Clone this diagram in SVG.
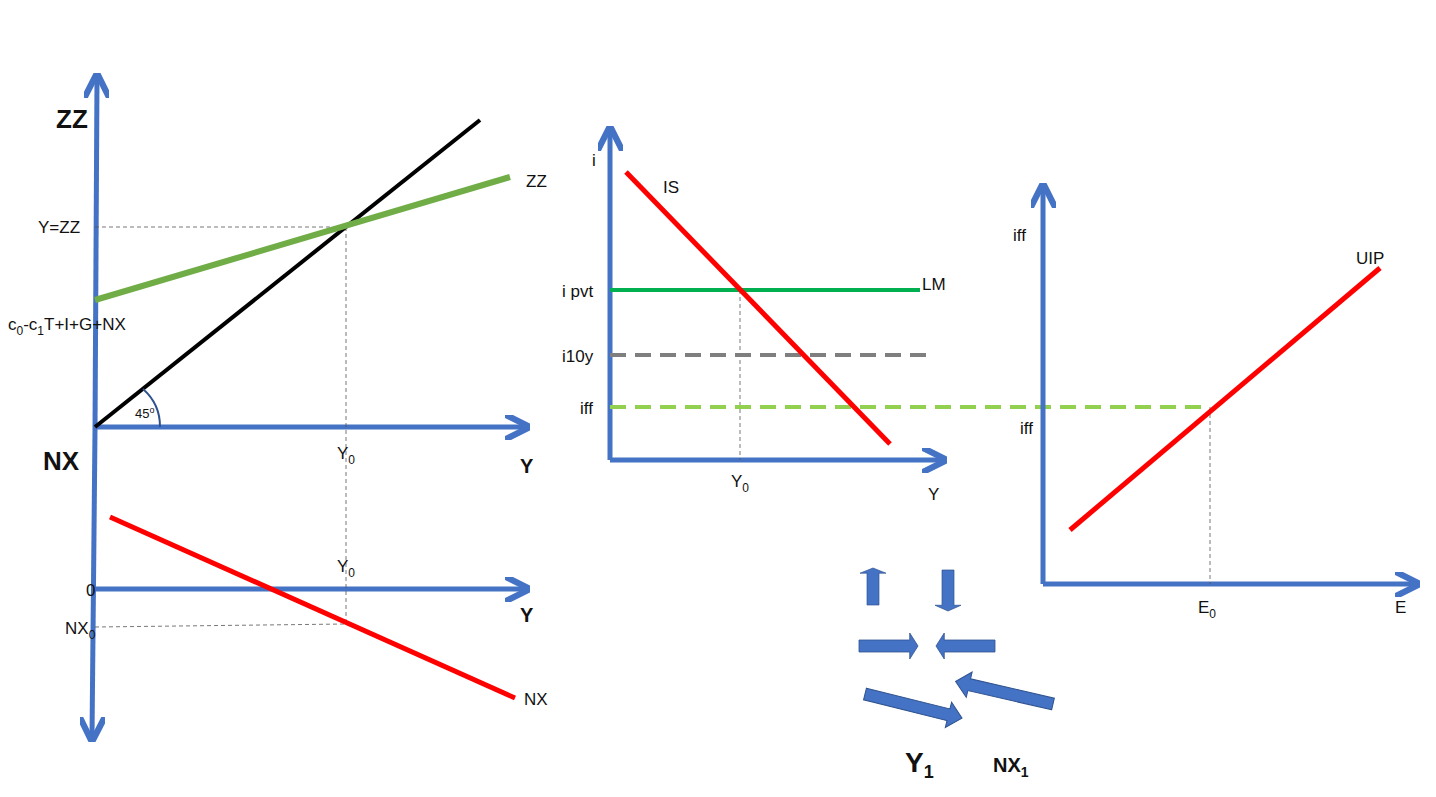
<svg xmlns="http://www.w3.org/2000/svg" width="1436" height="797" viewBox="0 0 1436 797">
<defs>
<marker id="ah" viewBox="0 0 10 10" refX="8" refY="5" markerWidth="5" markerHeight="5" orient="auto-start-reverse" markerUnits="strokeWidth"><path d="M0,0 L10,5 L0,10" fill="none" stroke="#4472C4" stroke-width="2.5"/></marker>
<polygon id="blk" points="0,-6 86,-6 86,-13 100,0 86,13 86,6 0,6"/>
</defs>
<style>
.ax{stroke:#4472C4;stroke-width:5;fill:none;marker-end:url(#ah)}
.dash{stroke:#555;stroke-width:0.8;stroke-dasharray:4,3;fill:none}
text{font-family:"Liberation Sans",Arial,sans-serif;font-size:17px;fill:#111}
.b{font-weight:bold;font-size:26px}
.s{font-size:12px}
.blue{fill:#4472C4;stroke:#2F528F;stroke-width:1}
</style>
<rect width="1436" height="797" fill="#fff"/>
<g id="connectors">
<line class="ax" x1="95" y1="430" x2="97" y2="78" style="marker-end:url(#ah)"/>
<line class="ax" x1="95" y1="430" x2="92" y2="737"/>
<line class="ax" x1="95" y1="427" x2="525" y2="427"/>
<line class="ax" x1="95" y1="589" x2="525" y2="589"/>
<line class="dash" x1="95" y1="227" x2="346" y2="227"/>
<line class="dash" x1="346" y1="227" x2="346" y2="624"/>
<line class="dash" x1="95" y1="627" x2="346" y2="624"/>
<line x1="95" y1="427" x2="480" y2="120" stroke="#000" stroke-width="4"/>
<line x1="95" y1="300" x2="510" y2="177" stroke="#70AD47" stroke-width="6"/>
<line x1="110" y1="517" x2="515" y2="698" stroke="#FF0000" stroke-width="5"/>
<path d="M143,389 A50,50 0 0 1 160,427" fill="none" stroke="#2F528F" stroke-width="2"/>
<line class="ax" x1="610" y1="460" x2="610" y2="131"/>
<line class="ax" x1="610" y1="460" x2="942" y2="460"/>
<line class="dash" x1="740" y1="290" x2="740" y2="460"/>
<line x1="610" y1="290" x2="920" y2="290" stroke="#00B050" stroke-width="4"/>
<line x1="610" y1="355" x2="930" y2="355" stroke="#7F7F7F" stroke-width="4" stroke-dasharray="16,9"/>
<line x1="610" y1="407" x2="1210" y2="407" stroke="#92D050" stroke-width="4" stroke-dasharray="16,9"/>
<line x1="626" y1="172" x2="890" y2="444" stroke="#FF0000" stroke-width="5"/>
<line class="ax" x1="1043" y1="584" x2="1043" y2="188"/>
<line class="ax" x1="1043" y1="584" x2="1415" y2="584"/>
<line class="dash" x1="1210" y1="407" x2="1210" y2="584"/>
<line x1="1070" y1="530" x2="1380" y2="268" stroke="#FF0000" stroke-width="5"/>
</g>
<g id="block-arrows">
<use href="#blk" class="blue" transform="translate(873,605) rotate(-90) scale(0.37,1)"/>
<use href="#blk" class="blue" transform="translate(948,570) rotate(90) scale(0.41,1)"/>
<use href="#blk" class="blue" transform="translate(859,646) scale(0.59,1)"/>
<use href="#blk" class="blue" transform="translate(995,646) rotate(180) scale(0.59,1)"/>
<use href="#blk" class="blue" transform="translate(865,694) rotate(14)"/>
<use href="#blk" class="blue" transform="translate(1053,704) rotate(193)"/>
</g>
<g id="labels">
<text class="b" x="56" y="128">ZZ</text>
<text x="526" y="187">ZZ</text>
<text x="38" y="233">Y=ZZ</text>
<text x="8" y="330">c<tspan class="s" dy="5">0</tspan><tspan dy="-5">-c</tspan><tspan class="s" dy="5">1</tspan><tspan dy="-5">T+I+G+NX</tspan></text>
<text x="135" y="418" class="s" style="font-size:13px">45<tspan dy="-5" style="font-size:9px">o</tspan></text>
<text class="b" x="43" y="470">NX</text>
<text x="337" y="459">Y<tspan class="s" dy="5">0</tspan></text>
<text x="520" y="473" style="font-size:20px;font-weight:bold">Y</text>
<text x="337" y="572">Y<tspan class="s" dy="5">0</tspan></text>
<text x="86" y="596">0</text>
<text x="520" y="622" style="font-size:20px;font-weight:bold">Y</text>
<text x="65" y="634">NX<tspan class="s" dy="5">0</tspan></text>
<text x="524" y="705">NX</text>
<text x="592" y="166">i</text>
<text x="663" y="193">IS</text>
<text x="922" y="290">LM</text>
<text x="562" y="297">i pvt</text>
<text x="562" y="362">i10y</text>
<text x="580" y="414">iff</text>
<text x="740" y="487" text-anchor="middle">Y<tspan class="s" dy="5">0</tspan></text>
<text x="928" y="500">Y</text>
<text x="1013" y="241">iff</text>
<text x="1020" y="434">iff</text>
<text x="1356" y="264">UIP</text>
<text x="1198" y="613">E<tspan class="s" dy="5">0</tspan></text>
<text x="1395" y="613">E</text>
<text x="905" y="772" style="font-size:28px;font-weight:bold">Y<tspan dy="6" style="font-size:18px">1</tspan></text>
<text x="993" y="772" style="font-size:20px;font-weight:bold">NX<tspan dy="5" style="font-size:14px">1</tspan></text>
</g>
</svg>
